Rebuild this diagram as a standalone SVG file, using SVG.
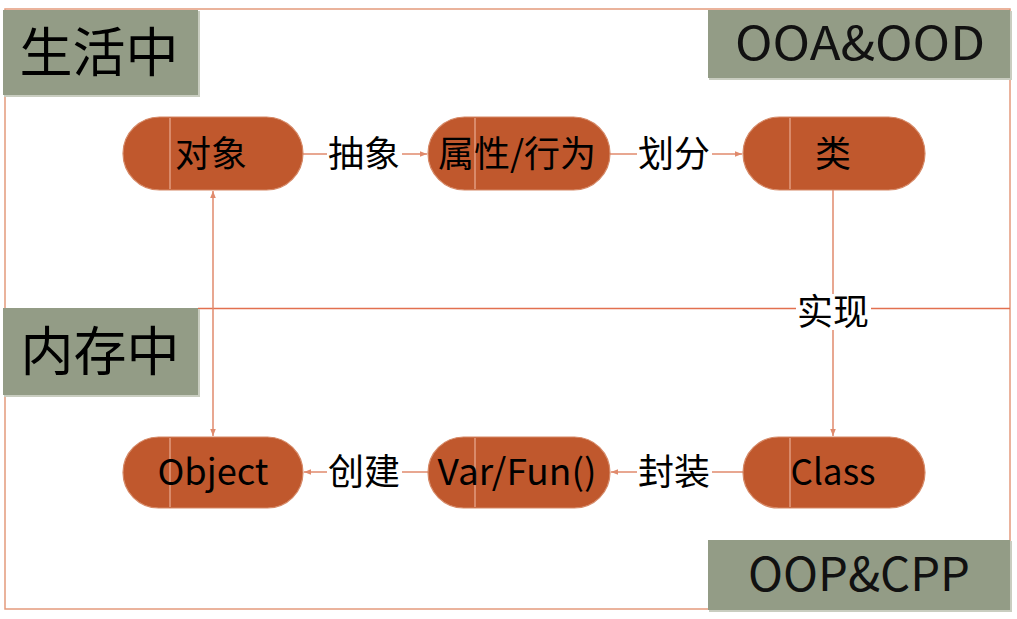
<svg xmlns="http://www.w3.org/2000/svg" width="1017" height="619" viewBox="0 0 1017 619">
<defs>
<style>
.frame{fill:none;stroke:#e49a7c;stroke-width:1.5}
.sep{fill:none;stroke:#e2704f;stroke-width:1.5}
.tag{fill:#939c86}
.tagshadow{fill:#c9cdc0}
.tagtxt{font-family:"Noto Sans CJK SC","Noto Sans",sans-serif;font-size:53px;fill:#000;text-anchor:middle;dominant-baseline:central}
.tagtxtl{font-family:"Noto Sans CJK SC","Noto Sans",sans-serif;font-size:46px;fill:#111;text-anchor:middle;dominant-baseline:central}
.pill{fill:#c0582d;stroke:#d58866;stroke-width:1.2}
.pdiv{stroke:#d98a6a;stroke-width:2}
.ntxt{font-family:"Noto Sans CJK SC","Noto Sans",sans-serif;font-size:36px;fill:#000;text-anchor:middle;dominant-baseline:central}
.edge{fill:none;stroke:#e08a6c;stroke-width:1.5}
.lbl{font-family:"Noto Sans CJK SC","Noto Sans",sans-serif;font-size:36px;fill:#000;text-anchor:middle;dominant-baseline:central}
.lblbg{fill:#fff}
</style>
<marker id="arr" viewBox="0 0 10 10" refX="10" refY="5" markerWidth="7" markerHeight="7" orient="auto-start-reverse" markerUnits="userSpaceOnUse">
<path d="M0,1 L10,5 L0,9 Z" fill="#e08a6c"/>
</marker>
</defs>
<rect width="1017" height="619" fill="#fff"/>

<g id="frame">
<rect class="frame" x="5" y="9" width="1005" height="600"/>
<line class="sep" x1="198" y1="308.5" x2="1010" y2="308.5"/>
</g>

<g id="connectors">
<line class="edge" x1="303" y1="154" x2="427" y2="154" marker-end="url(#arr)"/>
<line class="edge" x1="610" y1="154" x2="742" y2="154" marker-end="url(#arr)"/>
<line class="edge" x1="833" y1="190" x2="833" y2="436" marker-end="url(#arr)"/>
<line class="edge" x1="743" y1="472" x2="611" y2="472" marker-end="url(#arr)"/>
<line class="edge" x1="428" y1="472" x2="304" y2="472" marker-end="url(#arr)"/>
<line class="edge" x1="213" y1="191" x2="213" y2="436" marker-start="url(#arr)" marker-end="url(#arr)"/>
<rect class="lblbg" x="327" y="136" width="75" height="36"/>
<text class="lbl" x="364" y="151">抽象</text>
<rect class="lblbg" x="637" y="136" width="75" height="36"/>
<text class="lbl" x="674" y="151">划分</text>
<rect class="lblbg" x="796" y="294" width="75" height="36"/>
<text class="lbl" x="833" y="309">实现</text>
<rect class="lblbg" x="637" y="454" width="75" height="36"/>
<text class="lbl" x="674" y="469">封装</text>
<rect class="lblbg" x="327" y="454" width="75" height="36"/>
<text class="lbl" x="364" y="469">创建</text>
</g>

<g id="tag-life">
<rect class="tagshadow" x="4" y="11" width="196" height="86"/>
<rect class="tag" x="3" y="10" width="195" height="85"/>
<text class="tagtxt" x="99" y="49">生活中</text>
</g>
<g id="tag-mem">
<rect class="tagshadow" x="4" y="309" width="196" height="88"/>
<rect class="tag" x="3" y="308" width="195" height="87"/>
<text class="tagtxt" x="100" y="348">内存中</text>
</g>
<g id="tag-ooa">
<rect class="tagshadow" x="709" y="11" width="303" height="69"/>
<rect class="tag" x="708" y="10" width="302" height="68"/>
<text class="tagtxtl" x="860" y="40" textLength="250" lengthAdjust="spacingAndGlyphs">OOA&amp;OOD</text>
</g>
<g id="tag-oop">
<rect class="tagshadow" x="709" y="541" width="303" height="71"/>
<rect class="tag" x="708" y="540" width="302" height="70"/>
<text class="tagtxtl" x="859" y="571" textLength="222" lengthAdjust="spacingAndGlyphs">OOP&amp;CPP</text>
</g>

<g id="n-duixiang">
<rect class="pill" x="123" y="117" width="180" height="73" rx="36.5"/>
<line class="pdiv" x1="170" y1="118" x2="170" y2="189"/>
<text class="ntxt" x="211" y="151">对象</text>
</g>
<g id="n-shuxing">
<rect class="pill" x="428" y="117" width="182" height="73" rx="36.5"/>
<line class="pdiv" x1="475" y1="118" x2="475" y2="189"/>
<text class="ntxt" x="517" y="151">属性/行为</text>
</g>
<g id="n-lei">
<rect class="pill" x="743" y="117" width="182" height="73" rx="36.5"/>
<line class="pdiv" x1="790" y1="118" x2="790" y2="189"/>
<text class="ntxt" x="833" y="151">类</text>
</g>
<g id="n-object">
<rect class="pill" x="123" y="437" width="180" height="71" rx="35.5"/>
<line class="pdiv" x1="170" y1="438" x2="170" y2="507"/>
<text class="ntxt" x="213" y="469" textLength="111" lengthAdjust="spacingAndGlyphs">Object</text>
</g>
<g id="n-varfun">
<rect class="pill" x="428" y="437" width="182" height="71" rx="35.5"/>
<line class="pdiv" x1="475" y1="438" x2="475" y2="507"/>
<text class="ntxt" x="517" y="469" textLength="159" lengthAdjust="spacingAndGlyphs">Var/Fun()</text>
</g>
<g id="n-class">
<rect class="pill" x="743" y="437" width="182" height="71" rx="35.5"/>
<line class="pdiv" x1="790" y1="438" x2="790" y2="507"/>
<text class="ntxt" x="833" y="469" textLength="85" lengthAdjust="spacingAndGlyphs">Class</text>
</g>
</svg>
